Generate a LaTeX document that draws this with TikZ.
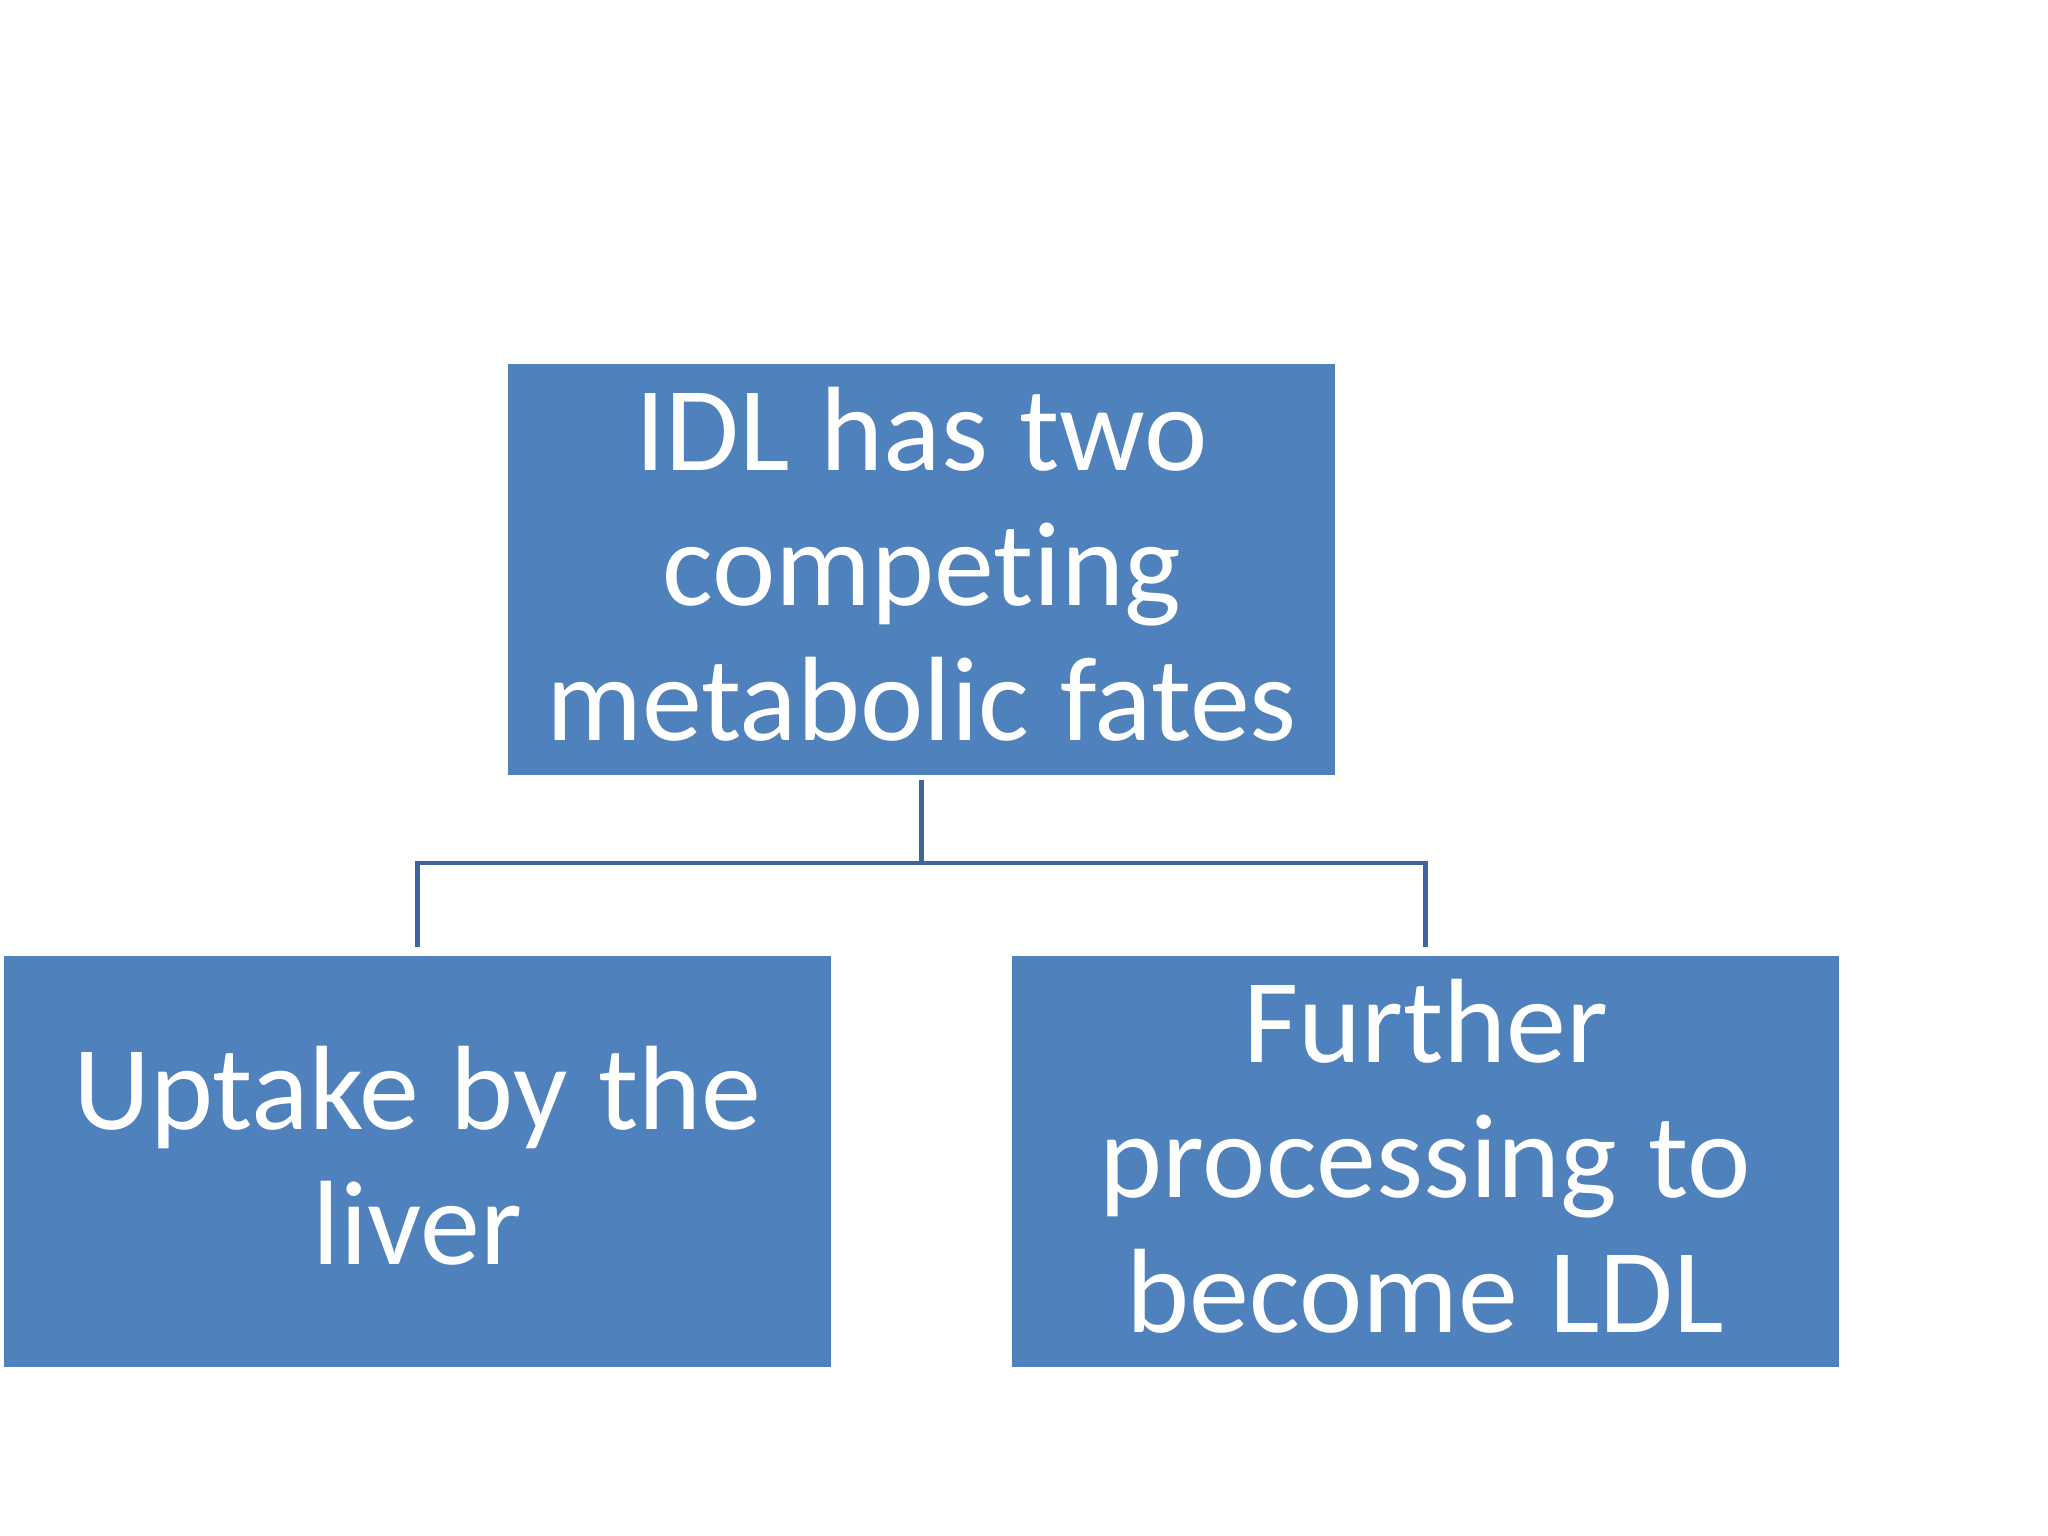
\documentclass[tikz,border=0pt]{standalone}
\usepackage{fontspec}
\setmainfont[Ligatures=NoCommon,RawFeature=-liga]{Carlito}
\definecolor{boxblue}{HTML}{4F81BD}
\definecolor{linkblue}{HTML}{3D6599}
\newcommand{\tightsp}{\spaceskip=0.26em\relax}
\begin{document}
\begin{tikzpicture}[x=1pt,y=-1pt,
  fatebox/.style={fill=boxblue,draw=none,minimum width=827pt,minimum height=411pt,inner sep=0pt,
    text=white,align=center,font=\fontsize{120}{135}\selectfont,text width=800pt},
  link/.style={draw=linkblue,line width=4.5pt}]
\useasboundingbox[fill=white] (0,0) rectangle (2048,1536);
\node[fatebox] (top) at (921.5,569.5) {};
\node[fatebox,fill=none] (toptext) at (921.5,564) {\tightsp IDL has two\\competing\\metabolic fates};
\node[fatebox] (left) at (417.5,1161) {};
\node[fatebox,fill=none] (lefttext) at (417.5,1155.5) {\tightsp Uptake by the\\liver};
\node[fatebox] (right) at (1425.5,1161) {};
\node[fatebox,fill=none] (righttext) at (1425.5,1156) {\tightsp Further\\processing to\\become LDL};
\coordinate (lj) at (417.5,863);
\coordinate (rj) at (1425.5,863);
\draw[link] ([yshift=-5pt]top.south) -- (921.5,863);
\draw[link] (lj) -- (rj);
\draw[link] ([yshift=2.25pt]lj) -- ([yshift=8pt]left.north);
\draw[link] ([yshift=2.25pt]rj) -- ([yshift=8pt]right.north);
\end{tikzpicture}
\end{document}
